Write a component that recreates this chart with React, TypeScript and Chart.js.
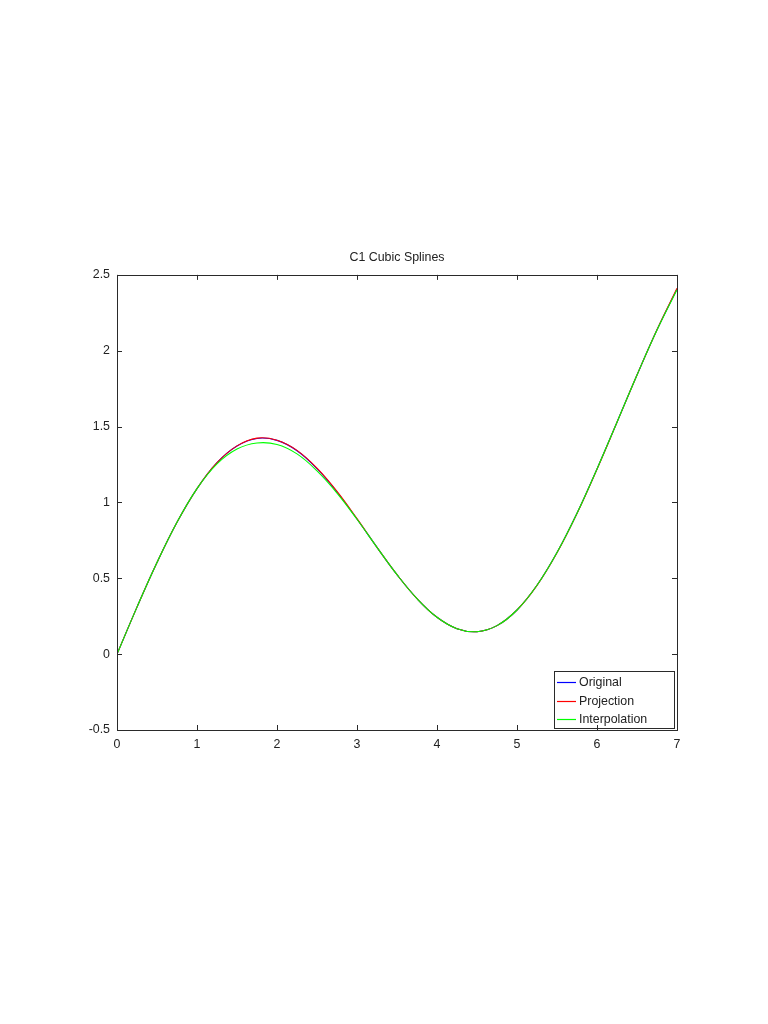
import React, { useEffect, useRef } from "react";
import { Chart, registerables } from "chart.js";

Chart.register(...registerables);

const titleText = "C1 Cubic Splines";
const xValues = [0, 0.25, 0.5, 0.75, 1, 1.25, 1.5, 1.75, 2, 2.25, 2.5, 2.75, 3, 3.25, 3.5, 3.75, 4, 4.25, 4.5, 4.75, 5, 5.25, 5.5, 5.75, 6, 6.25, 6.5, 6.75, 7];
const originalValues = [0, 0.31, 0.604, 0.869, 1.091, 1.262, 1.372, 1.422, 1.409, 1.341, 1.223, 1.069, 0.891, 0.704, 0.524, 0.366, 0.243, 0.168, 0.148, 0.188, 0.291, 0.454, 0.67, 0.929, 1.221, 1.529, 1.84, 2.138, 2.407];
const projectionValues = [0, 0.31, 0.604, 0.869, 1.091, 1.262, 1.373, 1.424, 1.41, 1.343, 1.226, 1.073, 0.893, 0.704, 0.524, 0.366, 0.243, 0.168, 0.148, 0.188, 0.291, 0.453, 0.668, 0.927, 1.219, 1.528, 1.84, 2.139, 2.412];
const interpolationValues = [0, 0.31, 0.604, 0.869, 1.091, 1.254, 1.352, 1.392, 1.382, 1.32, 1.208, 1.062, 0.889, 0.704, 0.524, 0.366, 0.243, 0.168, 0.148, 0.188, 0.291, 0.454, 0.67, 0.929, 1.221, 1.529, 1.84, 2.136, 2.402];
const seriesLabels = ["Original", "Projection", "Interpolation"];
const seriesColors = ["#0000ff", "#ff0000", "#00ff00"];
const xTicks = [0, 1, 2, 3, 4, 5, 6, 7];
const yTicks = [-0.5, 0, 0.5, 1, 1.5, 2, 2.5];

const FONT = "'Liberation Sans', Arial, Helvetica, sans-serif";
const TEXT = "#222222";
const FRAME = "#2a2a2a";
const FS = 12.4;

const framePlugin = {
  id: "frameAndLegend",
  afterDatasetsDraw(chart: any) {
    const ctx = chart.ctx;
    const { left, right, top, bottom } = chart.chartArea;
    const xs = chart.scales.x;
    const ys = chart.scales.y;
    ctx.save();

    // legend
    const lw = 120;
    const lh = 57;
    const lx = Math.round(right - 3 - lw);
    const ly = Math.round(bottom - 2 - lh);
    ctx.fillStyle = "#ffffff";
    ctx.fillRect(lx, ly, lw, lh);
    ctx.strokeStyle = FRAME;
    ctx.lineWidth = 1;
    ctx.strokeRect(lx + 0.5, ly + 0.5, lw, lh);
    ctx.font = FS + "px " + FONT;
    ctx.textBaseline = "middle";
    ctx.textAlign = "left";
    seriesLabels.forEach((label, i) => {
      const cy = Math.round(ly + 11 + i * 18.5);
      ctx.strokeStyle = seriesColors[i];
      ctx.lineWidth = 1.2;
      ctx.beginPath();
      ctx.moveTo(lx + 3, cy + 0.5);
      ctx.lineTo(lx + 22, cy + 0.5);
      ctx.stroke();
      ctx.fillStyle = TEXT;
      ctx.fillText(label, lx + 25, cy + 1);
    });

    // frame
    ctx.strokeStyle = FRAME;
    ctx.lineWidth = 1;
    ctx.strokeRect(Math.round(left) + 0.5, Math.round(top) + 0.5, Math.round(right - left), Math.round(bottom - top));
    const tl = 5;
    ctx.beginPath();
    xTicks.forEach((v) => {
      const px = Math.round(xs.getPixelForValue(v)) + 0.5;
      ctx.moveTo(px, bottom);
      ctx.lineTo(px, bottom - tl);
      ctx.moveTo(px, top);
      ctx.lineTo(px, top + tl);
    });
    yTicks.forEach((v) => {
      const py = Math.round(ys.getPixelForValue(v)) + 0.5;
      ctx.moveTo(left, py);
      ctx.lineTo(left + tl, py);
      ctx.moveTo(right, py);
      ctx.lineTo(right - tl, py);
    });
    ctx.stroke();
    ctx.restore();
  },
};

export default function App() {
  const ref = useRef<HTMLCanvasElement | null>(null);

  useEffect(() => {
    const prevMargin = document.body.style.margin;
    document.body.style.margin = "0";
    if (!ref.current) return;
    const mk = (vals: number[]) => xValues.map((x, i) => ({ x, y: vals[i] }));
    const allVals = [originalValues, projectionValues, interpolationValues];
    const chart = new Chart(ref.current, {
      type: "line",
      data: {
        datasets: allVals.map((vals, i) => ({
          label: seriesLabels[i],
          data: mk(vals),
          borderColor: seriesColors[i],
          backgroundColor: seriesColors[i],
          borderWidth: 1.1,
          pointRadius: 0,
          tension: 0.4,
          fill: false,
          order: 3 - i,
        })),
      },
      options: {
        responsive: false,
        animation: false,
        layout: { padding: { left: 0, right: 91, top: 250, bottom: 0 } },
        plugins: {
          legend: { display: false },
          tooltip: { enabled: false },
          title: {
            display: true,
            text: titleText,
            fullSize: false,
            color: TEXT,
            font: { family: FONT, size: FS, weight: "normal", lineHeight: 1.2 },
            padding: { top: 0, bottom: 10 },
          },
        },
        scales: {
          x: {
            type: "linear",
            min: 0,
            max: 7,
            afterBuildTicks: (s: any) => {
              s.ticks = xTicks.map((v) => ({ value: v }));
            },
            ticks: {
              color: TEXT,
              font: { family: FONT, size: FS },
              padding: 7,
              maxRotation: 0,
              callback: (v: any) => String(v),
            },
            grid: { display: false, drawTicks: false },
            border: { display: false },
            afterFit: (s: any) => {
              s.height = 294;
            },
          },
          y: {
            type: "linear",
            min: -0.5,
            max: 2.5,
            afterBuildTicks: (s: any) => {
              s.ticks = yTicks.map((v) => ({ value: v }));
            },
            ticks: {
              color: TEXT,
              font: { family: FONT, size: FS },
              padding: 7,
              callback: (v: any) => String(v),
            },
            grid: { display: false, drawTicks: false },
            border: { display: false },
            afterFit: (s: any) => {
              s.width = 117;
            },
          },
        },
      },
      plugins: [framePlugin],
    });
    return () => {
      chart.destroy();
      document.body.style.margin = prevMargin;
    };
  }, []);

  return (
    <div style={{ position: "absolute", left: 0, top: 0, width: 768, height: 1024, background: "#ffffff" }}>
      <canvas ref={ref} width={768} height={1024} style={{ display: "block", width: 768, height: 1024 }} />
    </div>
  );
}
